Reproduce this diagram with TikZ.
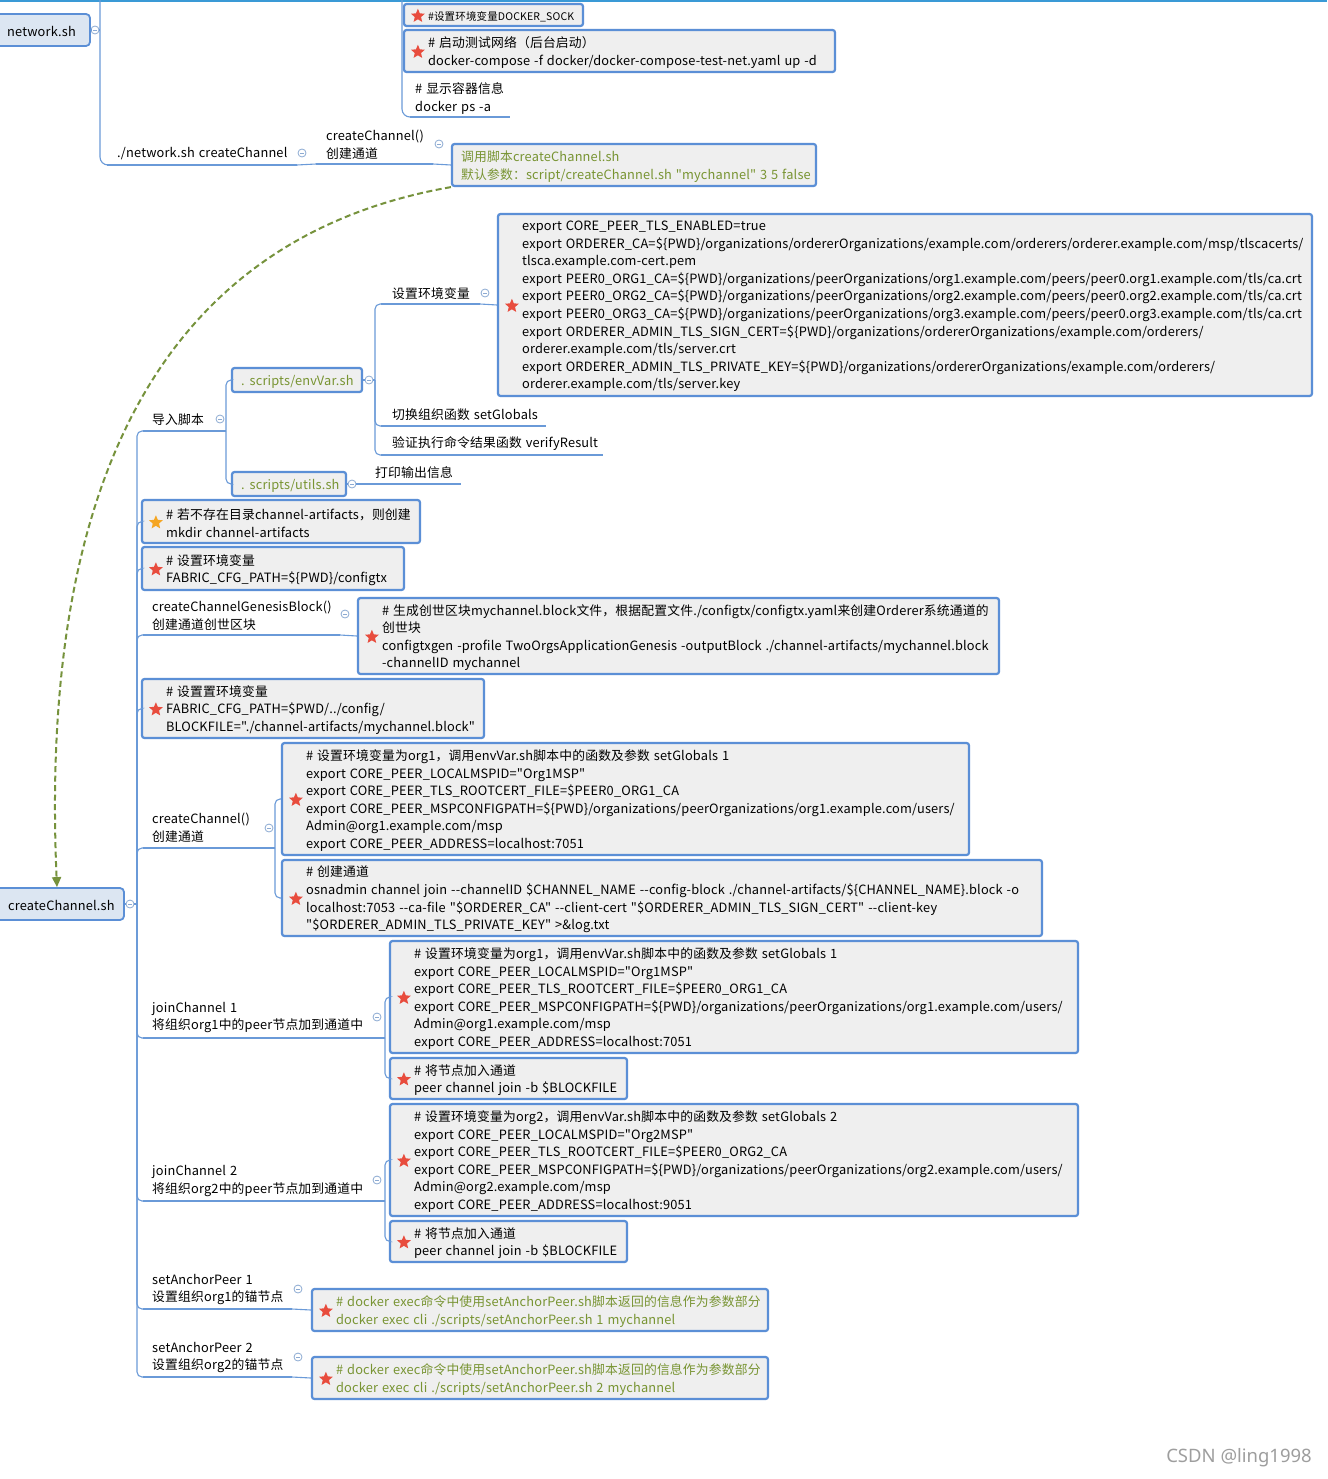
\documentclass[tikz,border=0pt]{standalone}
\usepackage{fontspec}
\newfontfamily\cjk{Noto Sans CJK SC}[LetterSpace=1.4,WordSpace=1.3]
\newfontfamily\wmfont{Noto Sans}
\usetikzlibrary{fit,shapes.geometric,arrows.meta}
\definecolor{linec}{RGB}{106,154,216}
\definecolor{boxb}{RGB}{91,143,214}
\definecolor{boxf}{RGB}{239,239,239}
\definecolor{rootf}{RGB}{220,230,242}
\definecolor{greent}{RGB}{120,148,50}
\definecolor{dashc}{RGB}{118,146,60}
\definecolor{starr}{RGB}{232,76,61}
\definecolor{staro}{RGB}{245,166,35}
\definecolor{topc}{RGB}{58,154,214}
\definecolor{collc}{RGB}{140,170,210}
\newcommand\fs{\cjk\fontsize{12.8}{17.6}\selectfont}
\tikzset{
  boxst/.style={draw=boxb, line width=2.2pt, fill=boxf, rounded corners=2.5pt, inner sep=0pt},
  rootst/.style={draw=boxb, line width=1.8pt, fill=rootf, rounded corners=4pt, inner sep=0pt},
  txt/.style={anchor=west, align=left, inner sep=0pt, font=\fs, yshift=-1.5pt},
  conn/.style={draw=linec, line width=1.1pt},
  uline/.style={draw=linec, line width=1.8pt},
  starn/.style={star, star points=5, star point ratio=2.2, inner sep=0pt, minimum size=14.5pt},
  coll/.style={circle, draw=collc, line width=0.8pt, fill=white, minimum size=8pt, inner sep=0pt},
  tree/.style={conn, rounded corners=5pt}
}
\newcommand\TB[8]{%
  \node[boxst, fit={(#2,#3)(#4,#5)}] (#1) {};
  \ifx\relax#6\relax
    \node[txt, text=#7] (#1-t) at ([xshift=10pt]#1.west) {#8};
  \else
    \node[starn, fill=#6] (#1-s) at ([xshift=15pt,yshift=-1pt]#1.west) {};
    \node[txt, text=#7] (#1-t) at ([xshift=25pt]#1.west) {#8};
  \fi}
\newcommand\Coll[3]{\node[coll] (#1) at (#2,#3) {};
  \draw[collc, line width=0.8pt] ([xshift=-2pt]#1.center) -- ([xshift=2pt]#1.center);}
\begin{document}
\begin{tikzpicture}[x=1pt,y=-1pt]
\useasboundingbox (0,0) rectangle (1327,1479);
\fill[white] (0,0) rectangle (1327,1479);
\draw[topc, line width=2.5pt] (0,1) -- (1327,1);

% ---------- network.sh part ----------
\node[rootst, fit={(-10,14)(90,46)}] (net) {};
\node[txt] (net-t) at (7,30) {network.sh};
\Coll{c-net}{95}{30}
\coordinate (net-j) at (100,30);
\coordinate (nc-a) at (107,165);
\coordinate (nc-b) at (297,165);
\coordinate (cc1-a) at (316,164);
\coordinate (cc1-b) at (433,164);
\coordinate (top1) at (100,-3);
\draw[conn] (net.east) -- (c-net) -- (net-j);
\draw[tree, rounded corners=8pt] (top1) |- (nc-a);
\draw[uline] (nc-a) -- (nc-b);
\node[txt] (nc-t) at (117,152) {./network.sh createChannel};
\Coll{c-nc}{302}{153}
\draw[conn] (nc-b) -- (cc1-a);
\draw[uline] (cc1-a) -- (cc1-b);
\node[txt] (cc1-t) at (326,143.5) {createChannel()\\创建通道};
\Coll{c-cc1}{439}{144}

\coordinate (top2) at (402,-3);
\coordinate (ps-a) at (410,117);
\coordinate (ps-b) at (510,117);
\draw[tree, rounded corners=8pt] (top2) |- (ps-a);
\draw[uline] (ps-a) -- (ps-b);
\node[txt] (ps-t) at (415,97) {\# 显示容器信息\\docker ps -a};
\TB{sock}{404}{4}{583}{26}{starr}{black}{\fontsize{10.5}{12}\selectfont\#设置环境变量DOCKER\_SOCK}
\TB{comp}{404}{30}{835}{72}{starr}{black}{\# 启动测试网络（后台启动）\\docker-compose -f docker/docker-compose-test-net.yaml up -d}

\TB{g1}{452}{144}{816}{186}{}{greent}{调用脚本createChannel.sh\\默认参数：script/createChannel.sh "mychannel" 3 5 false}
\draw[conn] (cc1-b) -- (g1.west);

% ---------- createChannel.sh root ----------
\node[rootst, fit={(-10,888)(124,920)}] (cc) {};
\node[txt] (cc-t) at (8,904) {createChannel.sh};
\Coll{c-cc}{130}{904}
\coordinate (cc-j) at (137,904);
\draw[conn] (cc.east) -- (c-cc) -- (cc-j);

\draw[dashc, line width=2pt, dash pattern=on 6pt off 3.5pt, -{Triangle[length=10pt,width=9pt]}]
  (g1.south west) .. controls (150,240) and (40,500) .. (cc.north);

% ---------- 导入脚本 ----------
\coordinate (dr-a) at (143,431);
\coordinate (dr-b) at (218,431);
\coordinate (dr-k) at (226,431);
\draw[tree] (cc-j) |- (dr-a);
\draw[uline] (dr-a) -- (dr-b);
\node[txt] (dr-t) at (152,418) {导入脚本};
\Coll{c-dr}{220}{419}
\TB{ev}{232}{368}{362}{392}{}{greent}{. scripts/envVar.sh}
\TB{ut}{232}{472}{346}{496}{}{greent}{. scripts/utils.sh}
\draw[conn] (dr-b) -- (dr-k);
\draw[tree] (dr-k) |- (ev.west);
\draw[tree] (dr-k) |- (ut.west);

% envVar children
\Coll{c-ev}{369}{380}
\coordinate (ev-k) at (375,380);
\coordinate (se-a) at (381,304);
\coordinate (se-b) at (480,304);
\coordinate (sg-a) at (381,426);
\coordinate (sg-b) at (546,426);
\coordinate (vr-a) at (381,455);
\coordinate (vr-b) at (603,455);
\draw[conn] (ev.east) -- (c-ev) -- (ev-k);
\draw[tree] (ev-k) |- (se-a);
\draw[tree] (ev-k) |- (sg-a);
\draw[tree] (ev-k) |- (vr-a);
\draw[uline] (se-a) -- (se-b);
\draw[uline] (sg-a) -- (sg-b);
\draw[uline] (vr-a) -- (vr-b);
\node[txt] (se-t) at (392,292) {设置环境变量};
\node[txt] (sg-t) at (392,413) {切换组织函数 setGlobals};
\node[txt] (vr-t) at (392,442) {验证执行命令结果函数 verifyResult};
\Coll{c-se}{485}{293}
\TB{env}{498}{214}{1312}{396}{starr}{black}{export CORE\_PEER\_TLS\_ENABLED=true\\
export ORDERER\_CA=\$\{PWD\}/organizations/ordererOrganizations/example.com/orderers/orderer.example.com/msp/tlscacerts/\\
tlsca.example.com-cert.pem\\
export PEER0\_ORG1\_CA=\$\{PWD\}/organizations/peerOrganizations/org1.example.com/peers/peer0.org1.example.com/tls/ca.crt\\
export PEER0\_ORG2\_CA=\$\{PWD\}/organizations/peerOrganizations/org2.example.com/peers/peer0.org2.example.com/tls/ca.crt\\
export PEER0\_ORG3\_CA=\$\{PWD\}/organizations/peerOrganizations/org3.example.com/peers/peer0.org3.example.com/tls/ca.crt\\
export ORDERER\_ADMIN\_TLS\_SIGN\_CERT=\$\{PWD\}/organizations/ordererOrganizations/example.com/orderers/\\
orderer.example.com/tls/server.crt\\
export ORDERER\_ADMIN\_TLS\_PRIVATE\_KEY=\$\{PWD\}/organizations/ordererOrganizations/example.com/orderers/\\
orderer.example.com/tls/server.key}
\draw[conn] (se-b) -- (env.west);

% utils children
\Coll{c-ut}{352}{484}
\coordinate (pr-a) at (362,484);
\coordinate (pr-b) at (461,484);
\draw[conn] (ut.east) -- (c-ut) -- (pr-a);
\draw[uline] (pr-a) -- (pr-b);
\node[txt] (pr-t) at (375,471) {打印输出信息};

% ---------- boxes on trunk ----------
\TB{mk}{142}{500}{420}{543}{staro}{black}{\# 若不存在目录channel-artifacts，则创建\\mkdir channel-artifacts}
\TB{cfg}{142}{547}{404}{590}{starr}{black}{\# 设置环境变量\\FABRIC\_CFG\_PATH=\$\{PWD\}/configtx}
\draw[tree] (cc-j) |- (mk.west);
\draw[tree] (cc-j) |- (cfg.west);

% genesis
\coordinate (gn-a) at (143,635);
\coordinate (gn-b) at (340,635);
\draw[tree] (cc-j) |- (gn-a);
\draw[uline] (gn-a) -- (gn-b);
\node[txt] (gn-t) at (152,614) {createChannelGenesisBlock()\\创建通道创世区块};
\Coll{c-gn}{345}{614}
\TB{gen}{358}{598}{999}{674}{starr}{black}{\# 生成创世区块mychannel.block文件，根据配置文件./configtx/configtx.yaml来创建Orderer系统通道的\\创世块\\configtxgen -profile TwoOrgsApplicationGenesis -outputBlock ./channel-artifacts/mychannel.block\\-channelID mychannel}
\draw[conn] (gn-b) -- (gen.west);

\TB{cfg2}{142}{679}{484}{738}{starr}{black}{\# 设置置环境变量\\FABRIC\_CFG\_PATH=\$PWD/../config/\\BLOCKFILE="./channel-artifacts/mychannel.block"}
\draw[tree] (cc-j) |- (cfg2.west);

% createChannel()
\coordinate (ch-a) at (143,848);
\coordinate (ch-b) at (262,848);
\coordinate (ch-k) at (275,848);
\draw[tree] (cc-j) |- (ch-a);
\draw[uline] (ch-a) -- (ch-b);
\node[txt] (ch-t) at (152,826.5) {createChannel()\\创建通道};
\Coll{c-ch}{269}{828}
\TB{cca}{282}{743}{969}{855}{starr}{black}{\# 设置环境变量为org1，调用envVar.sh脚本中的函数及参数 setGlobals 1\\
export CORE\_PEER\_LOCALMSPID="Org1MSP"\\
export CORE\_PEER\_TLS\_ROOTCERT\_FILE=\$PEER0\_ORG1\_CA\\
export CORE\_PEER\_MSPCONFIGPATH=\$\{PWD\}/organizations/peerOrganizations/org1.example.com/users/\\
Admin@org1.example.com/msp\\
export CORE\_PEER\_ADDRESS=localhost:7051}
\TB{ccb}{282}{860}{1042}{936}{starr}{black}{\# 创建通道\\
osnadmin channel join --channelID \$CHANNEL\_NAME --config-block ./channel-artifacts/\$\{CHANNEL\_NAME\}.block -o\\
localhost:7053 --ca-file "\$ORDERER\_CA" --client-cert "\$ORDERER\_ADMIN\_TLS\_SIGN\_CERT" --client-key\\
"\$ORDERER\_ADMIN\_TLS\_PRIVATE\_KEY" >\&log.txt}
\draw[conn] (ch-b) -- (ch-k);
\draw[tree] (ch-k) |- (cca.west);
\draw[tree] (ch-k) |- (ccb.west);

% joinChannel 1
\coordinate (j1-a) at (143,1038);
\coordinate (j1-b) at (372,1038);
\coordinate (j1-k) at (385,1038);
\draw[tree] (cc-j) |- (j1-a);
\draw[uline] (j1-a) -- (j1-b);
\node[txt] (j1-t) at (152,1016) {joinChannel 1\\将组织org1中的peer节点加到通道中};
\Coll{c-j1}{377}{1017}
\TB{j1a}{390}{941}{1078}{1053}{starr}{black}{\# 设置环境变量为org1，调用envVar.sh脚本中的函数及参数 setGlobals 1\\
export CORE\_PEER\_LOCALMSPID="Org1MSP"\\
export CORE\_PEER\_TLS\_ROOTCERT\_FILE=\$PEER0\_ORG1\_CA\\
export CORE\_PEER\_MSPCONFIGPATH=\$\{PWD\}/organizations/peerOrganizations/org1.example.com/users/\\
Admin@org1.example.com/msp\\
export CORE\_PEER\_ADDRESS=localhost:7051}
\TB{j1b}{390}{1058}{627}{1099}{starr}{black}{\# 将节点加入通道\\peer channel join -b \$BLOCKFILE}
\draw[conn] (j1-b) -- (j1-k);
\draw[tree] (j1-k) |- (j1a.west);
\draw[tree] (j1-k) |- (j1b.west);

% joinChannel 2
\coordinate (j2-a) at (143,1201);
\coordinate (j2-b) at (372,1201);
\coordinate (j2-k) at (385,1201);
\draw[tree] (cc-j) |- (j2-a);
\draw[uline] (j2-a) -- (j2-b);
\node[txt] (j2-t) at (152,1179.5) {joinChannel 2\\将组织org2中的peer节点加到通道中};
\Coll{c-j2}{377}{1180}
\TB{j2a}{390}{1104}{1078}{1216}{starr}{black}{\# 设置环境变量为org2，调用envVar.sh脚本中的函数及参数 setGlobals 2\\
export CORE\_PEER\_LOCALMSPID="Org2MSP"\\
export CORE\_PEER\_TLS\_ROOTCERT\_FILE=\$PEER0\_ORG2\_CA\\
export CORE\_PEER\_MSPCONFIGPATH=\$\{PWD\}/organizations/peerOrganizations/org2.example.com/users/\\
Admin@org2.example.com/msp\\
export CORE\_PEER\_ADDRESS=localhost:9051}
\TB{j2b}{390}{1221}{627}{1262}{starr}{black}{\# 将节点加入通道\\peer channel join -b \$BLOCKFILE}
\draw[conn] (j2-b) -- (j2-k);
\draw[tree] (j2-k) |- (j2a.west);
\draw[tree] (j2-k) |- (j2b.west);

% setAnchorPeer 1
\coordinate (s1-a) at (143,1309);
\coordinate (s1-b) at (292,1309);
\draw[tree] (cc-j) |- (s1-a);
\draw[uline] (s1-a) -- (s1-b);
\node[txt] (s1-t) at (152,1288) {setAnchorPeer 1\\设置组织org1的锚节点};
\Coll{c-s1}{298}{1289}
\TB{a1}{312}{1289}{768}{1331}{starr}{greent}{\# docker exec命令中使用setAnchorPeer.sh脚本返回的信息作为参数部分\\docker exec cli ./scripts/setAnchorPeer.sh 1 mychannel}
\draw[conn] (s1-b) -- (a1.west);

% setAnchorPeer 2
\coordinate (s2-a) at (143,1377);
\coordinate (s2-b) at (292,1377);
\draw[tree] (cc-j) |- (s2-a);
\draw[uline] (s2-a) -- (s2-b);
\node[txt] (s2-t) at (152,1356) {setAnchorPeer 2\\设置组织org2的锚节点};
\Coll{c-s2}{298}{1357}
\TB{a2}{312}{1357}{768}{1399}{starr}{greent}{\# docker exec命令中使用setAnchorPeer.sh脚本返回的信息作为参数部分\\docker exec cli ./scripts/setAnchorPeer.sh 2 mychannel}
\draw[conn] (s2-b) -- (a2.west);

\node[anchor=east, inner sep=0pt, text=black!38, font=\wmfont\fontsize{18.5}{22}\selectfont] (wm) at (1312,1458) {CSDN @ling1998};
\end{tikzpicture}
\end{document}
